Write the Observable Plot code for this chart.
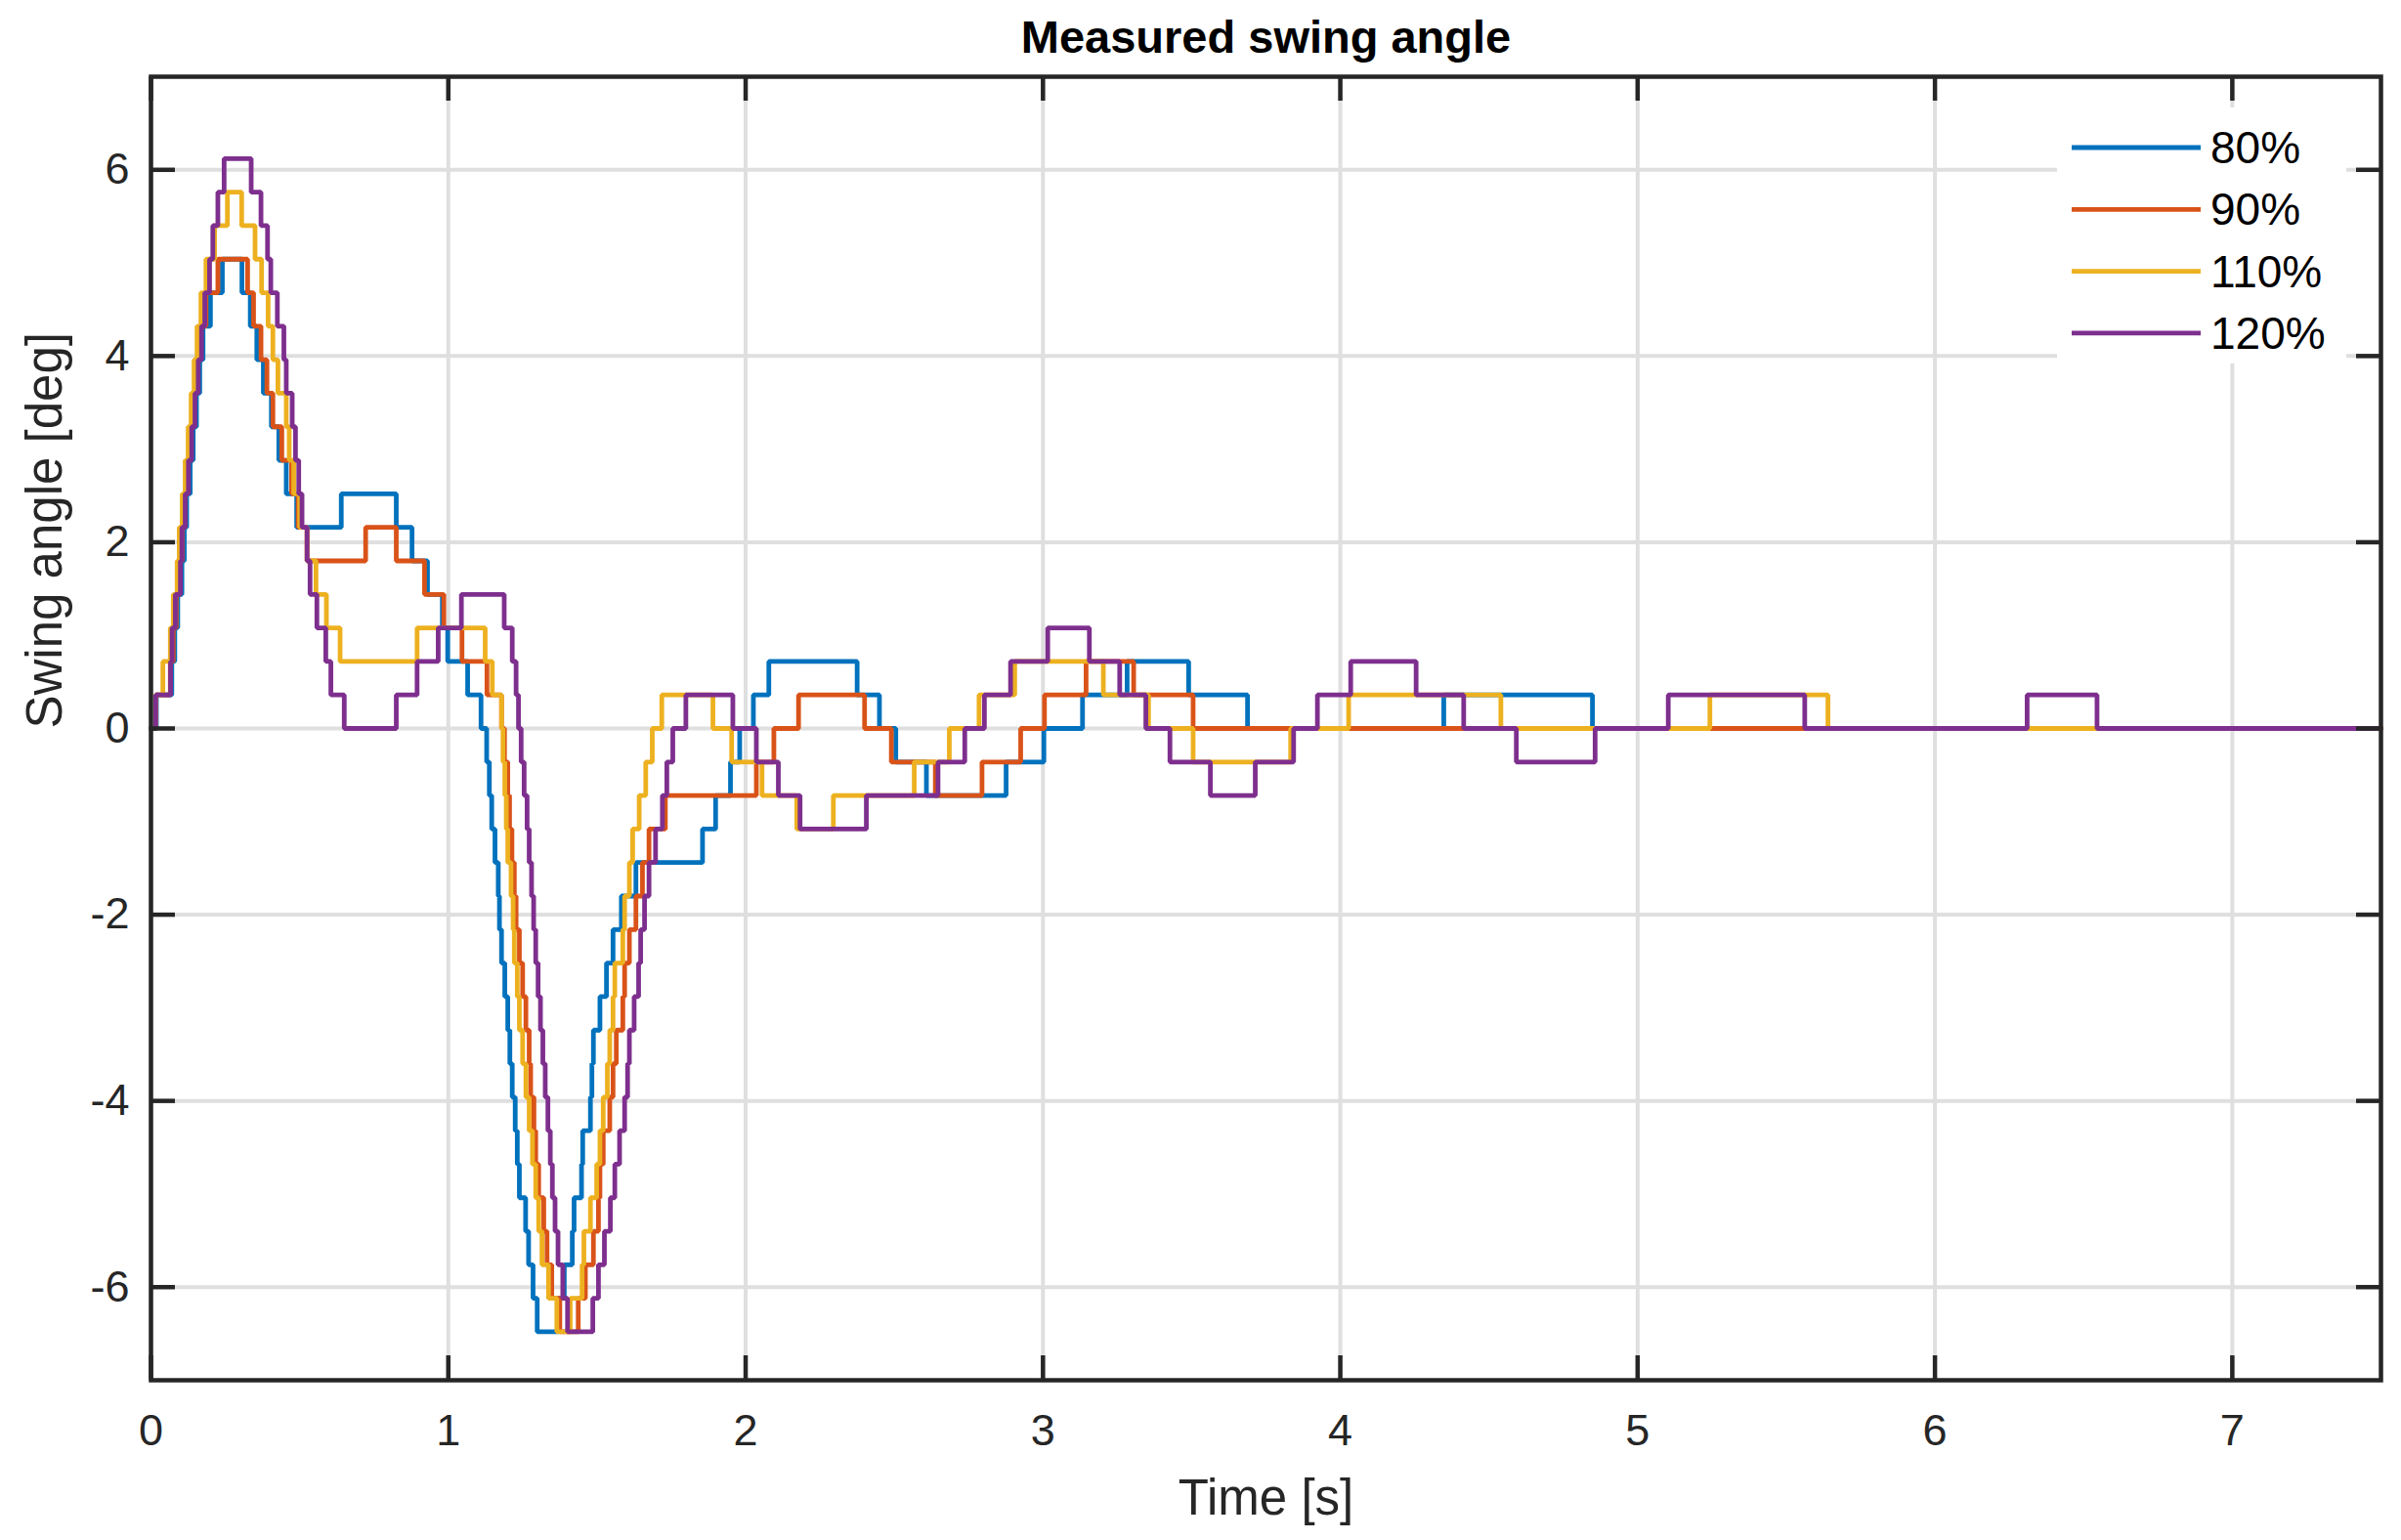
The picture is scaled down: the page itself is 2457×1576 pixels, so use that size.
<!DOCTYPE html>
<html>
<head>
<meta charset="utf-8">
<script src="https://cdn.jsdelivr.net/npm/d3@7"></script>
<script src="https://cdn.jsdelivr.net/npm/@observablehq/plot@0.6"></script>
<style>
html, body { margin: 0; padding: 0; background: #fff; }
#chart { width: 2457px; height: 1576px; }
</style>
</head>
<body>
<div id="chart"></div>
<script>
// ---- data ----
const seriesNames = ["80%", "90%", "110%", "120%"];
const seriesColors = ["#0072BD", "#D95319", "#EDB120", "#7E2F8E"];

const t80 = [0, 0.018, 0.07, 0.08, 0.09, 0.104, 0.112, 0.12, 0.132, 0.142, 0.153, 0.164, 0.175, 0.2, 0.24, 0.306, 0.334, 0.356, 0.378, 0.405, 0.43, 0.455, 0.49, 0.64, 0.825, 0.878, 0.93, 0.98, 0.998, 1.065, 1.11, 1.129, 1.138, 1.146, 1.157, 1.168, 1.172, 1.179, 1.19, 1.2, 1.207, 1.215, 1.225, 1.232, 1.239, 1.26, 1.27, 1.285, 1.299, 1.37, 1.39, 1.417, 1.423, 1.448, 1.452, 1.478, 1.483, 1.488, 1.51, 1.532, 1.554, 1.582, 1.631, 1.855, 1.899, 1.949, 1.98, 2.026, 2.078, 2.375, 2.45, 2.505, 2.608, 2.876, 3.003, 3.133, 3.283, 3.49, 3.688, 4.348, 4.848, 7.5];
const a80 = [0, 0.36, 0.72, 1.08, 1.44, 1.8, 2.16, 2.52, 2.88, 3.24, 3.6, 3.96, 4.32, 4.68, 5.04, 4.68, 4.32, 3.96, 3.6, 3.24, 2.88, 2.52, 2.16, 2.52, 2.16, 1.8, 1.44, 1.08, 0.72, 0.36, 0, -0.36, -0.72, -1.08, -1.44, -1.8, -2.16, -2.52, -2.88, -3.24, -3.6, -3.96, -4.32, -4.68, -5.04, -5.4, -5.76, -6.12, -6.48, -6.12, -5.76, -5.4, -5.04, -4.68, -4.32, -3.96, -3.6, -3.24, -2.88, -2.52, -2.16, -1.8, -1.44, -1.08, -0.72, -0.36, 0, 0.36, 0.72, 0.36, 0, -0.36, -0.72, -0.36, 0, 0.36, 0.72, 0.36, 0, 0.36, 0, 0];

const t90 = [0, 0.016, 0.065, 0.075, 0.085, 0.097, 0.105, 0.115, 0.125, 0.135, 0.146, 0.157, 0.168, 0.185, 0.225, 0.325, 0.345, 0.37, 0.39, 0.41, 0.44, 0.473, 0.495, 0.525, 0.722, 0.825, 0.92, 0.985, 1.046, 1.13, 1.179, 1.189, 1.2, 1.206, 1.214, 1.222, 1.228, 1.239, 1.25, 1.261, 1.272, 1.277, 1.288, 1.294, 1.304, 1.321, 1.332, 1.348, 1.375, 1.437, 1.461, 1.488, 1.505, 1.51, 1.521, 1.543, 1.554, 1.565, 1.587, 1.593, 1.609, 1.631, 1.653, 1.675, 1.73, 2.036, 2.095, 2.178, 2.4, 2.49, 2.638, 2.795, 2.925, 3.005, 3.145, 3.305, 3.505, 7.5];
const a90 = [0, 0.36, 0.72, 1.08, 1.44, 1.8, 2.16, 2.52, 2.88, 3.24, 3.6, 3.96, 4.32, 4.68, 5.04, 4.68, 4.32, 3.96, 3.6, 3.24, 2.88, 2.52, 2.16, 1.8, 2.16, 1.8, 1.44, 1.08, 0.72, 0.36, 0, -0.36, -0.72, -1.08, -1.44, -1.8, -2.16, -2.52, -2.88, -3.24, -3.6, -3.96, -4.32, -4.68, -5.04, -5.4, -5.76, -6.12, -6.48, -6.12, -5.76, -5.4, -5.04, -4.68, -4.32, -3.96, -3.6, -3.24, -2.88, -2.52, -2.16, -1.8, -1.44, -1.08, -0.72, -0.36, 0, 0.36, 0, -0.36, -0.72, -0.36, 0, 0.36, 0.72, 0.36, 0, 0];

const t110 = [0, 0.016, 0.04, 0.065, 0.075, 0.088, 0.095, 0.105, 0.115, 0.125, 0.135, 0.145, 0.155, 0.168, 0.185, 0.214, 0.257, 0.305, 0.35, 0.372, 0.394, 0.41, 0.427, 0.455, 0.465, 0.48, 0.5, 0.525, 0.555, 0.59, 0.636, 0.895, 1.124, 1.148, 1.179, 1.184, 1.19, 1.195, 1.2, 1.211, 1.218, 1.222, 1.232, 1.239, 1.25, 1.261, 1.272, 1.283, 1.294, 1.304, 1.315, 1.337, 1.365, 1.41, 1.45, 1.456, 1.478, 1.499, 1.51, 1.521, 1.535, 1.543, 1.554, 1.56, 1.587, 1.593, 1.609, 1.62, 1.642, 1.664, 1.686, 1.718, 1.89, 1.953, 2.055, 2.172, 2.295, 2.567, 2.685, 2.785, 2.905, 3.203, 3.355, 3.505, 3.833, 4.028, 4.54, 5.243, 5.64, 7.5];
const a110 = [0, 0.36, 0.72, 1.08, 1.44, 1.8, 2.16, 2.52, 2.88, 3.24, 3.6, 3.96, 4.32, 4.68, 5.04, 5.4, 5.76, 5.4, 5.04, 4.68, 4.32, 3.96, 3.6, 3.24, 2.88, 2.52, 2.16, 1.8, 1.44, 1.08, 0.72, 1.08, 0.72, 0.36, 0, -0.36, -0.72, -1.08, -1.44, -1.8, -2.16, -2.52, -2.88, -3.24, -3.6, -3.96, -4.32, -4.68, -5.04, -5.4, -5.76, -6.12, -6.48, -6.12, -5.76, -5.4, -5.04, -4.68, -4.32, -3.96, -3.6, -3.24, -2.88, -2.52, -2.16, -1.8, -1.44, -1.08, -0.72, -0.36, 0, 0.36, 0, -0.36, -0.72, -1.08, -0.72, -0.36, 0, 0.36, 0.72, 0.36, 0, -0.36, 0, 0.36, 0, 0.36, 0, 0];

const t120 = [0, 0.016, 0.066, 0.071, 0.082, 0.099, 0.104, 0.115, 0.126, 0.137, 0.148, 0.159, 0.17, 0.181, 0.197, 0.208, 0.225, 0.246, 0.337, 0.37, 0.392, 0.403, 0.425, 0.447, 0.455, 0.475, 0.486, 0.497, 0.508, 0.525, 0.535, 0.558, 0.588, 0.605, 0.65, 0.825, 0.895, 0.966, 1.044, 1.188, 1.215, 1.228, 1.236, 1.245, 1.255, 1.265, 1.272, 1.28, 1.287, 1.294, 1.302, 1.31, 1.318, 1.326, 1.335, 1.343, 1.35, 1.359, 1.369, 1.385, 1.401, 1.486, 1.505, 1.525, 1.545, 1.56, 1.576, 1.593, 1.603, 1.609, 1.625, 1.64, 1.647, 1.66, 1.675, 1.697, 1.72, 1.735, 1.755, 1.799, 1.957, 2.036, 2.11, 2.183, 2.406, 2.647, 2.737, 2.803, 2.891, 3.016, 3.156, 3.258, 3.346, 3.427, 3.563, 3.714, 3.843, 3.923, 4.035, 4.255, 4.415, 4.592, 4.857, 5.103, 5.562, 6.31, 6.545, 7.5];
const a120 = [0, 0.36, 0.72, 1.08, 1.44, 1.8, 2.16, 2.52, 2.88, 3.24, 3.6, 3.96, 4.32, 4.68, 5.04, 5.4, 5.76, 6.12, 5.76, 5.4, 5.04, 4.68, 4.32, 3.96, 3.6, 3.24, 2.88, 2.52, 2.16, 1.8, 1.44, 1.08, 0.72, 0.36, 0, 0.36, 0.72, 1.08, 1.44, 1.08, 0.72, 0.36, 0, -0.36, -0.72, -1.08, -1.44, -1.8, -2.16, -2.52, -2.88, -3.24, -3.6, -3.96, -4.32, -4.68, -5.04, -5.4, -5.76, -6.12, -6.48, -6.12, -5.76, -5.4, -5.04, -4.68, -4.32, -3.96, -3.6, -3.24, -2.88, -2.52, -2.16, -1.8, -1.44, -1.08, -0.72, -0.36, 0, 0.36, 0, -0.36, -0.72, -1.08, -0.72, -0.36, 0, 0.36, 0.72, 1.08, 0.72, 0.36, 0, -0.36, -0.72, -0.36, 0, 0.36, 0.72, 0.36, 0, -0.36, 0, 0.36, 0, 0.36, 0, 0];

const xTicks = [0, 1, 2, 3, 4, 5, 6, 7];
const yTicks = [-6, -4, -2, 0, 2, 4, 6];
const xDomain = [0, 7.5];
const yDomain = [-7, 7];
const titleText = "Measured swing angle";
const xLabel = "Time [s]";
const yLabel = "Swing angle [deg]";

// ---- build long table ----
const times = [t80, t90, t110, t120];
const angles = [a80, a90, a110, a120];
const rows = seriesNames.flatMap((name, i) =>
  times[i].map((t, j) => ({series: name, t, a: angles[i][j]})));

// ---- layout ----
const W = 2457, H = 1576;
const mL = 154, mR = 21, mT = 78, mB = 164;
const plotW = W - mL - mR, plotH = H - mT - mB;
const tickPx = 25;
const tx = tickPx * (xDomain[1] - xDomain[0]) / plotW;
const ty = tickPx * (yDomain[1] - yDomain[0]) / plotH;
const axisColor = "#262626";
const font = "'Liberation Sans', Arial, Helvetica, sans-serif";
const lineW = 4.8;

const svg = Plot.plot({
  width: W,
  height: H,
  marginLeft: mL,
  marginRight: mR,
  marginTop: mT,
  marginBottom: mB,
  style: {fontFamily: font, background: "#fff", overflow: "visible"},
  x: {domain: xDomain},
  y: {domain: yDomain},
  color: {domain: seriesNames, range: seriesColors},
  marks: [
    Plot.gridX(xTicks, {stroke: "#dfdfdf", strokeOpacity: 1, strokeWidth: 4}),
    Plot.gridY(yTicks, {stroke: "#dfdfdf", strokeOpacity: 1, strokeWidth: 4}),
    Plot.line(rows, {x: "t", y: "a", z: "series", stroke: "series", curve: "step-after", strokeWidth: lineW, strokeLinejoin: "miter"}),
    Plot.frame({stroke: axisColor, strokeWidth: 4.5}),
    // inward ticks on all four sides
    Plot.ruleX(xTicks, {x: d => d, y1: yDomain[0], y2: yDomain[0] + ty, stroke: axisColor, strokeWidth: 4.5}),
    Plot.ruleX(xTicks, {x: d => d, y1: yDomain[1] - ty, y2: yDomain[1], stroke: axisColor, strokeWidth: 4.5}),
    Plot.ruleY(yTicks, {y: d => d, x1: xDomain[0], x2: xDomain[0] + tx, stroke: axisColor, strokeWidth: 4.5}),
    Plot.ruleY(yTicks, {y: d => d, x1: xDomain[1] - tx, x2: xDomain[1], stroke: axisColor, strokeWidth: 4.5}),
    Plot.axisX(xTicks, {anchor: "bottom", tickSize: 0, tickPadding: 35, fontSize: 45, color: axisColor, tickFormat: d => String(d), label: null}),
    Plot.axisY(yTicks, {anchor: "left", tickSize: 0, tickPadding: 22, fontSize: 45, color: axisColor, tickFormat: d => String(d), label: null}),
    Plot.text([xLabel], {frameAnchor: "bottom", dy: 137, lineAnchor: "bottom", fontSize: 51, fill: axisColor}),
    Plot.text([yLabel], {frameAnchor: "left", dx: -92, rotate: -90, lineAnchor: "bottom", fontSize: 51, fill: axisColor}),
    Plot.text([titleText], {frameAnchor: "top", dy: -25, lineAnchor: "bottom", fontSize: 47, fontWeight: "bold", fill: "#000"})
  ]
});

// ---- legend (inside the axes, top right) ----
const lg = d3.select(svg).append("g").attr("class", "legend");
lg.append("rect").attr("x", 2105).attr("y", 110).attr("width", 296).attr("height", 262).attr("fill", "#fff");
seriesNames.forEach((name, i) => {
  const yy = 151 + i * 63.3;
  lg.append("line").attr("x1", 2120).attr("x2", 2252).attr("y1", yy).attr("y2", yy)
    .attr("stroke", seriesColors[i]).attr("stroke-width", lineW);
  lg.append("text").attr("x", 2262).attr("y", yy).attr("dy", "0.35em")
    .attr("text-anchor", "start")
    .attr("font-size", 46).attr("font-family", font).attr("fill", "#000").text(name);
});

document.getElementById("chart").appendChild(svg);
</script>
</body>
</html>
